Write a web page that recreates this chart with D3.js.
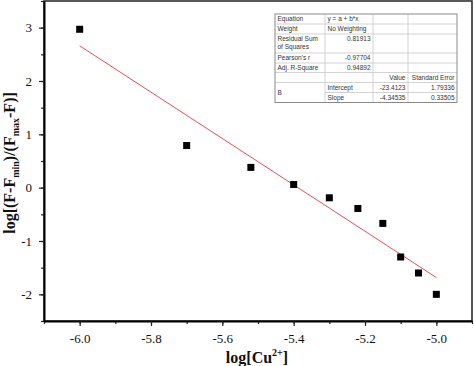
<!DOCTYPE html>
<html>
<head>
<meta charset="utf-8">
<script src="https://cdn.jsdelivr.net/npm/d3@7"></script>
<style>
  body { margin: 0; background: #fff; }
  svg { display: block; }
</style>
</head>
<body>
<div id="chart"></div>
<script>
// measured points
const logCu = [-6.0, -5.7, -5.52, -5.4, -5.3, -5.22, -5.15, -5.1, -5.05, -5.0]
const logRatio = [2.97, 0.79, 0.38, 0.06, -0.19, -0.39, -0.67, -1.30, -1.60, -2.0]

// linear fit y = a + b*x
const fitA = -23.4123
const fitB = -4.34535
const fitRange = [-6.0, -5.0]

const xTicks = [-6.0, -5.8, -5.6, -5.4, -5.2, -5.0]
const yTicks = [-2, -1, 0, 1, 2, 3]

// fit report table
const tableLabels = ["Equation", "Weight", "Residual Sum|of Squares", "Pearson's r", "Adj. R-Square"]
const tableValues = ["y = a + b*x", "No Weighting", "0.81913", "-0.97704", "0.94892"]
const tableHeader = ["Value", "Standard Error"]
const paramName = "B"
const paramRows = ["Intercept", "Slope"]
const paramValues = [-23.4123, -4.34535]
const paramErrors = [1.79336, 0.33505]

const width = 474, height = 366
const margin = { top: 1, right: 2, bottom: 45, left: 44 }

const x = d3.scaleLinear()
  .domain([-6.1, -4.9])
  .range([margin.left, width - margin.right])

const y = d3.scaleLinear()
  .domain([-2.5, 3.5])
  .range([height - margin.bottom, margin.top])

// plain hyphen minus like the original figure
const fmt1 = d => d3.format(".1f")(d).replace("\u2212", "-")
const fmt0 = d => d3.format("d")(d).replace("\u2212", "-")

const svg = d3.select("#chart").append("svg")
  .attr("width", width)
  .attr("height", height)
  .attr("font-family", "'Liberation Serif', 'Times New Roman', serif")

// frame
svg.append("rect")
  .attr("x", x.range()[0])
  .attr("y", y.range()[1])
  .attr("width", x.range()[1] - x.range()[0])
  .attr("height", y.range()[0] - y.range()[1])
  .attr("fill", "none")
  .attr("stroke", "#222")
  .attr("stroke-width", 1.5)

// minor ticks
svg.append("g")
  .attr("transform", `translate(0,${y.range()[0]})`)
  .call(d3.axisBottom(x).tickValues(d3.range(-6.1, -4.85, 0.1)).tickSize(3).tickFormat("").tickSizeOuter(0))
  .call(g => g.select(".domain").remove())

svg.append("g")
  .attr("transform", `translate(${x.range()[0]},0)`)
  .call(d3.axisLeft(y).tickValues(d3.range(-2.5, 3.6, 0.5)).tickSize(3).tickFormat("").tickSizeOuter(0))
  .call(g => g.select(".domain").remove())

// major axes
const xAxis = svg.append("g")
  .attr("transform", `translate(0,${y.range()[0]})`)
  .call(d3.axisBottom(x).tickValues(xTicks).tickSize(5).tickSizeOuter(0).tickFormat(fmt1))
xAxis.select(".domain").attr("stroke-width", 2)
xAxis.selectAll("text").attr("font-size", 13).attr("font-family", "'Liberation Serif', serif").attr("fill", "#111").attr("dy", "1.1em")

const yAxis = svg.append("g")
  .attr("transform", `translate(${x.range()[0]},0)`)
  .call(d3.axisLeft(y).tickValues(yTicks).tickSize(5).tickSizeOuter(0).tickFormat(fmt0))
yAxis.select(".domain").attr("stroke-width", 2)
yAxis.selectAll("text").attr("font-size", 13).attr("font-family", "'Liberation Serif', serif").attr("fill", "#111").attr("dx", "-0.3em")

svg.selectAll(".tick line").attr("stroke", "#222").attr("stroke-width", 1.2)

// fit line
svg.append("line")
  .attr("x1", x(fitRange[0]))
  .attr("y1", y(fitA + fitB * fitRange[0]))
  .attr("x2", x(fitRange[1]))
  .attr("y2", y(fitA + fitB * fitRange[1]))
  .attr("stroke", "#e8505a")
  .attr("stroke-width", 1)

// points
const sq = 7
svg.append("g")
  .selectAll("rect")
  .data(logCu)
  .join("rect")
  .attr("x", d => x(d) - sq / 2)
  .attr("y", (d, i) => y(logRatio[i]) - sq / 2)
  .attr("width", sq)
  .attr("height", sq)
  .attr("fill", "#000")

// axis titles
const xt = svg.append("text")
  .attr("x", 257)
  .attr("y", 363)
  .attr("text-anchor", "middle")
  .attr("font-weight", "bold")
  .attr("font-size", 16)
  .attr("fill", "#111")
xt.append("tspan").text("log[Cu")
xt.append("tspan").attr("font-size", 10).attr("dy", -7).text("2+")
xt.append("tspan").attr("dy", 7).text("]")

const yt = svg.append("text")
  .attr("transform", "translate(15,163) rotate(-90)")
  .attr("text-anchor", "middle")
  .attr("font-weight", "bold")
  .attr("font-size", 16)
  .attr("fill", "#111")
yt.append("tspan").text("log[(F-F")
yt.append("tspan").attr("font-size", 10).attr("dy", 4).text("min")
yt.append("tspan").attr("dy", -4).text(")/(F")
yt.append("tspan").attr("font-size", 10).attr("dy", 4).text("max")
yt.append("tspan").attr("dy", -4).text("-F)]")

// table
const cols = [275, 325, 373, 408, 457]
const rowH = [10, 10, 19, 10, 9.5, 10, 10, 10]
const rows = [14]
rowH.forEach(h => rows.push(rows[rows.length - 1] + h))

const tbl = svg.append("g")
  .attr("font-family", "'Liberation Sans', Arial, sans-serif")
  .attr("font-size", 6.5)
  .attr("fill", "#333")

tbl.append("rect")
  .attr("x", cols[0]).attr("y", rows[0])
  .attr("width", cols[4] - cols[0]).attr("height", rows[8] - rows[0])
  .attr("fill", "#fff")

// horizontal grid lines (skip B column between Intercept and Slope)
rows.slice(1, 8).forEach((ry, i) => {
  tbl.append("line")
    .attr("x1", i === 6 ? cols[1] : cols[0]).attr("x2", cols[4])
    .attr("y1", ry).attr("y2", ry)
    .attr("stroke", "#c8c8c8").attr("stroke-width", 0.8)
})
cols.slice(1, 4).forEach(cx => {
  tbl.append("line")
    .attr("x1", cx).attr("x2", cx)
    .attr("y1", rows[0]).attr("y2", rows[8])
    .attr("stroke", "#c8c8c8").attr("stroke-width", 0.8)
})
tbl.append("rect")
  .attr("x", cols[0]).attr("y", rows[0])
  .attr("width", cols[4] - cols[0]).attr("height", rows[8] - rows[0])
  .attr("fill", "none").attr("stroke", "#8a8a8a").attr("stroke-width", 1)

const pad = 2.5
tableLabels.forEach((lab, i) => {
  const parts = lab.split("|")
  const t = tbl.append("text").attr("x", cols[0] + pad).attr("y", rows[i] + 7.3)
  parts.forEach((p, j) => t.append("tspan").attr("x", cols[0] + pad).attr("dy", j ? 8 : 0).text(p))
})
tableValues.forEach((v, i) => {
  const left = i < 2
  tbl.append("text")
    .attr("x", left ? cols[1] + pad : cols[2] - pad)
    .attr("y", rows[i] + 7.3)
    .attr("text-anchor", left ? "start" : "end")
    .text(v)
})
tableHeader.forEach((h, i) => {
  tbl.append("text")
    .attr("x", cols[i + 3] - pad)
    .attr("y", rows[5] + 7.3)
    .attr("text-anchor", "end")
    .text(h)
})
tbl.append("text").attr("x", cols[0] + pad).attr("y", rows[6] + 12).text(paramName)
paramRows.forEach((p, i) => {
  tbl.append("text").attr("x", cols[1] + pad).attr("y", rows[6 + i] + 7.3).text(p)
  tbl.append("text").attr("x", cols[3] - pad).attr("y", rows[6 + i] + 7.3)
    .attr("text-anchor", "end").text(paramValues[i])
  tbl.append("text").attr("x", cols[4] - pad).attr("y", rows[6 + i] + 7.3)
    .attr("text-anchor", "end").text(paramErrors[i])
})
</script>
</body>
</html>
